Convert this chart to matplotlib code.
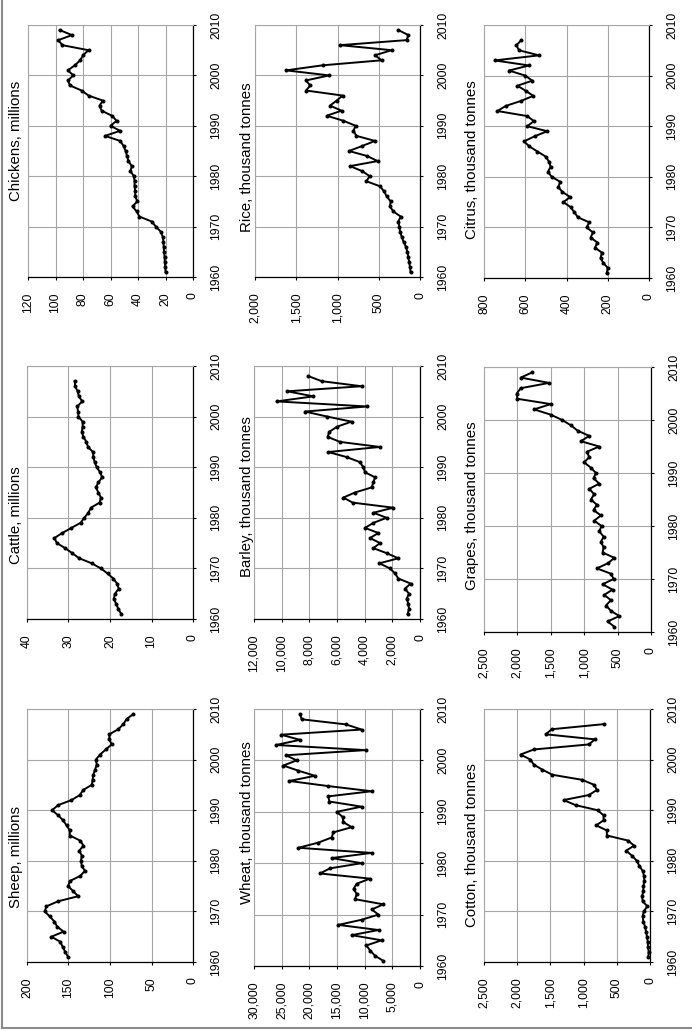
import matplotlib
matplotlib.use('Agg')
import matplotlib.pyplot as plt
from matplotlib.lines import Line2D

plt.rcParams['font.family'] = ['Liberation Sans', 'DejaVu Sans']

# ---------------- data ----------------
chickens_years = list(range(1961, 2010))
chickens = [20, 20.2, 20.5, 20.7, 21, 21.3, 21.5, 22, 23.5, 27,
            30, 39, 41, 44, 40.5, 42, 42, 42.5, 42.5, 43,
            45.5, 44.5, 47, 48, 49, 50.5, 53, 64, 53, 60,
            55.5, 59, 66.5, 68, 65.5, 76, 81, 89.5, 91, 87,
            91, 86, 82, 80, 76, 95, 98, 88, 97]

rice_years = list(range(1961, 2010))
rice = [115, 121, 133, 141, 154, 170, 200, 222, 242, 250,
        263, 234, 323, 364, 356, 404, 436, 485, 650, 610,
        700, 848, 513, 640, 860, 700, 545, 770, 808, 780,
        929, 1131, 950, 1091, 1010, 937, 1382, 1330, 1382, 1099,
        1624, 1180, 465, 545, 343, 970, 162, 141, 263]

citrus_years = list(range(1961, 2008))
citrus = [205, 200, 222, 235, 228, 262, 250, 283, 272, 302,
          290, 345, 362, 380, 415, 382, 420, 440, 430, 472,
          490, 477, 485, 501, 541, 580, 606, 555, 493, 590,
          558, 590, 735, 695, 620, 561, 598, 638, 566, 600,
          679, 582, 748, 533, 630, 643, 619]

cattle_years = list(range(1961, 2008))
cattle = [17.3, 18.0, 18.5, 19.1, 18.8, 17.9, 18.3, 19.2, 20.6, 22.2,
          24.4, 27.4, 29.1, 30.8, 32.8, 33.4, 31.5, 29.3, 27.1, 26.2,
          25.2, 24.6, 22.5, 22.2, 22.8, 23.4, 22.8, 21.9, 22.4, 23.2,
          23.7, 24.0, 24.1, 25.3, 25.7, 26.4, 26.8, 26.6, 26.6, 27.6,
          27.7, 27.9, 26.7, 27.5, 27.8, 28.4, 28.5]

barley_years = list(range(1961, 2009))
barley = [892, 795, 843, 964, 795, 1084, 675, 1566, 1807, 2169,
          2940, 1566, 2400, 3370, 2890, 3610, 3010, 3976, 3370, 2410,
          3370, 1930, 4870, 5540, 4700, 3500, 3370, 3250, 3976, 4100,
          4340, 5300, 6630, 2890, 5780, 6680, 6550, 6000, 4950, 6700,
          8313, 3807, 10361, 7711, 9590, 4217, 7108, 8072]

grapes_years = list(range(1961, 2010))
grapes = [550, 650, 475, 600, 675, 600, 700, 575, 725, 560,
          600, 810, 640, 550, 725, 710, 750, 710, 775, 740,
          850, 750, 860, 810, 900, 850, 925, 775, 860, 825,
          900, 1000, 925, 960, 775, 1050, 925, 1100, 1200, 1330,
          1500, 1750, 1500, 2000, 2010, 1950, 1525, 1950, 1775]

sheep_years = list(range(1961, 2010))
sheep = [150.5, 154, 157, 160, 170.6, 156, 163.7, 167, 172.6, 178.6,
         176.6, 162.5, 138.3, 144.4, 150.4, 148.4, 136, 130.2, 134, 135,
         134, 137, 132, 136, 148.4, 148.4, 152.4, 156.5, 162.5, 169.8,
         162.5, 146.4, 136.3, 132.3, 122, 121, 120.2, 118, 116, 117,
         112, 105, 98, 100.8, 100.8, 90, 84, 80, 72]

wheat_years = list(range(1961, 2010))
wheat = [6627, 8133, 9000, 9700, 6928, 12349, 7500, 14759, 10542, 7530,
         8700, 6627, 11747, 11446, 12000, 11450, 9036, 18072, 16265, 10542,
         15964, 8735, 21988, 18373, 15964, 15663, 12349, 13855, 13976, 15060,
         10542, 16385, 16566, 8735, 16566, 23614, 18976, 21988, 24699, 22289,
         24217, 9819, 26024, 21687, 25120, 10542, 13373, 21386, 21687]

cotton_years = list(range(1961, 2008))
cotton = [25, 20, 30, 35, 45, 60, 75, 100, 110, 95,
          40, 110, 120, 100, 100, 85, 90, 110, 160, 200,
          270, 360, 240, 330, 650, 650, 810, 700, 700, 790,
          1120, 1300, 920, 800, 840, 1020, 1470, 1620, 1750, 1800,
          1950, 1750, 920, 830, 1570, 1480, 700]

titles = ["Chickens, millions", "Rice, thousand tonnes", "Citrus, thousand tonnes",
          "Cattle, millions", "Barley, thousand tonnes", "Grapes, thousand tonnes",
          "Sheep, millions", "Wheat, thousand tonnes", "Cotton, thousand tonnes"]
value_max = [120, 2000, 800, 40, 12000, 2500, 200, 30000, 2500]
value_step = [20, 500, 200, 10, 2000, 500, 50, 5000, 500]
year_ticks = [1960, 1970, 1980, 1990, 2000, 2010]

series = [(chickens_years, chickens), (rice_years, rice), (citrus_years, citrus),
          (cattle_years, cattle), (barley_years, barley), (grapes_years, grapes),
          (sheep_years, sheep), (wheat_years, wheat), (cotton_years, cotton)]

# ---------------- layout (pixels) ----------------
W, H = 692, 1031
boxes = [(28, 25, 193, 277), (255, 25, 420, 277), (484, 25, 649, 278),
         (27, 366, 193, 619), (254, 366, 420, 619), (484, 367, 651, 632),
         (27, 709, 193, 962), (254, 709, 420, 966), (484, 709, 650, 962)]
title_pos = [(16, 141), (247, 157), (472, 160),
             (16, 515), (247, 497), (472, 506),
             (16, 857), (247, 823), (472, 845)]

GRID = '#a6a6a6'
fig = plt.figure(figsize=(W / 100, H / 100), dpi=100)
fig.patch.set_facecolor('white')

for i in range(9):
    x0, y0, x1, y1 = boxes[i]
    ax = fig.add_axes([x0 / W, 1 - y1 / H, (x1 - x0) / W, (y1 - y0) / H])
    yrs, vals = series[i]
    ax.plot(vals, yrs, color='black', lw=1.4, marker='o', ms=1.9,
            mfc='black', mec='black', zorder=3, clip_on=False)
    vmax = value_max[i]
    ax.set_xlim(vmax, 0)
    ax.set_ylim(1960, 2010)
    vt = list(range(0, vmax + 1, value_step[i]))
    ax.set_xticks(vt, labels=[f"{v:,}" for v in vt], rotation=90,
                  ha='center', va='top', fontsize=8.7)
    ax.yaxis.tick_right()
    ax.set_yticks(year_ticks, labels=[str(y) for y in year_ticks], rotation=90,
                  ha='left', va='center', fontsize=8.7)
    ax.grid(True, color=GRID, lw=0.8)
    ax.set_axisbelow(True)
    ax.tick_params(axis='x', direction='out', length=2.5, width=0.8, pad=8.5)
    ax.tick_params(axis='y', direction='out', length=2.5, width=0.8, pad=10)
    for s in ('top', 'left'):
        ax.spines[s].set_color(GRID)
        ax.spines[s].set_linewidth(0.8)
    for s in ('bottom', 'right'):
        ax.spines[s].set_color('black')
        ax.spines[s].set_linewidth(0.9)
    tx, ty = title_pos[i]
    fig.text(tx / W, 1 - ty / H, titles[i], rotation=90, ha='center', va='center',
             fontsize=10.8, color='black')

# frame lines (left and bottom)
fig.add_artist(Line2D([2 / W, 2 / W], [1 - 1028 / H, 1], color='#8c8c8c', lw=1.5))
fig.add_artist(Line2D([2 / W, 1], [1 - 1028 / H, 1 - 1028 / H], color='#8c8c8c', lw=1.5))

fig.savefig('out.png', dpi=100, facecolor='white')
